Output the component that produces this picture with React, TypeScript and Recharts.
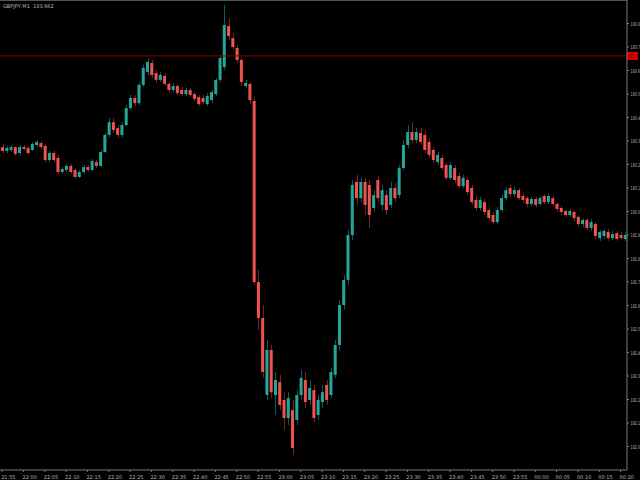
import React from 'react';
import { ComposedChart, Bar, XAxis, YAxis, ReferenceLine } from 'recharts';

const opens = [
  183.274, 183.258, 183.262, 183.274, 183.249, 183.274, 183.270, 183.262, 183.283, 183.291,
  183.279, 183.219, 183.249, 183.228, 183.168, 183.177, 183.194, 183.177, 183.147, 183.168,
  183.189, 183.177, 183.210, 183.194, 183.253, 183.326, 183.380, 183.355, 183.326, 183.368,
  183.440, 183.483, 183.461, 183.539, 183.594, 183.632, 183.589, 183.560, 183.577, 183.543,
  183.517, 183.534, 183.517, 183.500, 183.517, 183.500, 183.487, 183.483, 183.457, 183.474,
  183.500, 183.560, 183.615, 183.789, 183.738, 183.696, 183.645, 183.534, 183.543, 183.470,
  182.700, 182.547, 182.219, 182.411, 182.219, 182.274, 182.198, 182.121, 182.155, 182.113,
  182.219, 182.283, 182.198, 182.240, 182.134, 182.189, 182.262, 182.219, 182.305, 182.432,
  182.602, 182.709, 182.900, 183.126, 183.057, 183.126, 183.113, 183.015, 183.134, 183.028,
  183.070, 183.028, 183.100, 183.070, 183.185, 183.283, 183.338, 183.304, 183.334, 183.326,
  183.296, 183.262, 183.210, 183.228, 183.198, 183.143, 183.185, 183.151, 183.108, 183.134,
  183.100, 183.049, 183.015, 183.040, 183.006, 182.985, 182.955, 183.006, 183.057, 183.100,
  183.074, 183.091, 183.066, 183.057, 183.032, 183.053, 183.032, 183.066, 183.040, 183.057,
  183.032, 183.015, 183.002, 182.985, 182.998, 182.977, 182.947, 182.964, 182.930, 182.947,
  182.887, 182.896, 182.913, 182.887, 182.908, 182.900, 182.883,
];

const closes = [
  183.258, 183.270, 183.274, 183.245, 183.274, 183.266, 183.249, 183.287, 183.296, 183.274,
  183.219, 183.249, 183.219, 183.168, 183.181, 183.194, 183.168, 183.147, 183.168, 183.189,
  183.177, 183.215, 183.194, 183.253, 183.326, 183.380, 183.347, 183.326, 183.368, 183.440,
  183.483, 183.461, 183.539, 183.611, 183.636, 183.581, 183.560, 183.581, 183.543, 183.517,
  183.534, 183.504, 183.500, 183.517, 183.496, 183.479, 183.457, 183.466, 183.491, 183.508,
  183.560, 183.653, 183.794, 183.747, 183.700, 183.645, 183.551, 183.547, 183.474, 182.700,
  182.547, 182.317, 182.411, 182.231, 182.283, 182.177, 182.121, 182.206, 181.994, 182.219,
  182.292, 182.189, 182.249, 182.121, 182.198, 182.231, 182.198, 182.317, 182.432, 182.602,
  182.709, 182.900, 183.113, 183.057, 183.126, 183.028, 182.985, 183.070, 183.057, 183.091,
  183.006, 183.100, 183.057, 183.185, 183.283, 183.338, 183.304, 183.338, 183.296, 183.262,
  183.241, 183.219, 183.241, 183.185, 183.143, 183.198, 183.134, 183.108, 183.143, 183.083,
  183.040, 183.015, 183.049, 182.998, 182.972, 182.955, 183.006, 183.057, 183.091, 183.074,
  183.091, 183.057, 183.049, 183.032, 183.053, 183.028, 183.057, 183.040, 183.066, 183.032,
  183.011, 182.998, 182.985, 183.002, 182.972, 182.947, 182.964, 182.930, 182.955, 182.896,
  182.913, 182.917, 182.887, 182.904, 182.883, 182.887, 182.900,
];

const highs = [
  183.287, 183.279, 183.283, 183.279, 183.283, 183.283, 183.279, 183.296, 183.304, 183.300,
  183.287, 183.258, 183.258, 183.241, 183.189, 183.202, 183.202, 183.185, 183.177, 183.198,
  183.198, 183.223, 183.219, 183.262, 183.334, 183.398, 183.398, 183.368, 183.380, 183.453,
  183.496, 183.496, 183.551, 183.624, 183.653, 183.645, 183.602, 183.594, 183.589, 183.551,
  183.547, 183.543, 183.530, 183.526, 183.526, 183.508, 183.496, 183.496, 183.504, 183.517,
  183.568, 183.666, 183.879, 183.823, 183.760, 183.709, 183.653, 183.560, 183.551, 183.483,
  182.751, 182.602, 182.453, 182.432, 182.317, 182.305, 182.231, 182.231, 182.198, 182.240,
  182.326, 182.317, 182.283, 182.262, 182.219, 182.262, 182.283, 182.334, 182.453, 182.623,
  182.730, 182.921, 183.134, 183.156, 183.143, 183.143, 183.134, 183.091, 183.151, 183.113,
  183.091, 183.126, 183.121, 183.198, 183.304, 183.368, 183.380, 183.355, 183.355, 183.347,
  183.313, 183.274, 183.253, 183.241, 183.210, 183.210, 183.198, 183.164, 183.156, 183.143,
  183.113, 183.066, 183.062, 183.053, 183.019, 182.998, 183.019, 183.070, 183.104, 183.113,
  183.104, 183.100, 183.079, 183.066, 183.062, 183.062, 183.066, 183.074, 183.079, 183.066,
  183.040, 183.023, 183.011, 183.011, 183.006, 182.985, 182.972, 182.972, 182.968, 182.955,
  182.921, 182.926, 182.926, 182.917, 182.917, 182.913, 182.913,
];

const lows = [
  183.249, 183.249, 183.253, 183.236, 183.241, 183.258, 183.241, 183.258, 183.274, 183.266,
  183.210, 183.210, 183.210, 183.156, 183.160, 183.168, 183.160, 183.139, 183.143, 183.160,
  183.168, 183.173, 183.185, 183.189, 183.249, 183.317, 183.334, 183.313, 183.317, 183.360,
  183.432, 183.449, 183.453, 183.530, 183.581, 183.568, 183.547, 183.551, 183.534, 183.504,
  183.508, 183.496, 183.491, 183.491, 183.487, 183.470, 183.449, 183.457, 183.449, 183.461,
  183.491, 183.551, 183.602, 183.730, 183.687, 183.632, 183.534, 183.526, 183.457, 182.688,
  182.496, 182.292, 182.198, 182.206, 182.134, 182.155, 182.070, 182.092, 181.964, 182.092,
  182.198, 182.164, 182.177, 182.104, 182.113, 182.164, 182.177, 182.206, 182.292, 182.411,
  182.581, 182.688, 182.879, 183.028, 183.040, 182.985, 182.930, 182.998, 183.040, 183.006,
  182.985, 183.015, 183.040, 183.057, 183.177, 183.270, 183.291, 183.291, 183.283, 183.249,
  183.228, 183.206, 183.198, 183.177, 183.134, 183.134, 183.121, 183.100, 183.100, 183.070,
  183.028, 183.002, 183.002, 182.985, 182.960, 182.947, 182.947, 182.998, 183.049, 183.062,
  183.062, 183.049, 183.036, 183.019, 183.023, 183.019, 183.023, 183.032, 183.032, 183.023,
  182.998, 182.985, 182.977, 182.977, 182.960, 182.938, 182.934, 182.921, 182.917, 182.883,
  182.875, 182.883, 182.875, 182.879, 182.875, 182.879, 182.875,
];

const timeLabels = [
  '21:55', '22:00', '22:05', '22:10', '22:15', '22:20', '22:25', '22:30', '22:35', '22:40',
  '22:45', '22:50', '22:55', '23:00', '23:05', '23:10', '23:15', '23:20', '23:25', '23:30',
  '23:35', '23:40', '23:45', '23:50', '23:55', '00:00', '00:05', '00:10', '00:15', '00:20',
];

const priceTicks = [
  182.0, 182.1, 182.2, 182.3, 182.4, 182.5, 182.6, 182.7, 182.8, 182.9,
  183.0, 183.1, 183.2, 183.3, 183.4, 183.5, 183.6, 183.7, 183.8,
];

const currentPrice = 183.662;
const titleText = 'GBPJPY,M1  183.662';

const BULL = '#26a69a';
const BEAR = '#ef5350';
const BULL_WICK = '#0f5a52';
const BEAR_WICK = '#7a1e1e';
const AXIS = '#7a7a7a';
const TEXT = '#b8b8b8';
const FONT = 'DejaVu Sans, sans-serif';

const data = opens.map((open, i) => ({
  idx: i,
  open,
  high: highs[i],
  low: lows[i],
  close: closes[i],
}));

const xTicks = timeLabels.map((_, k) => k * 5);

const Candle = (props: any) => {
  const { x, y, width, height, payload } = props;
  if (!payload) return null;
  const { open, close, high, low } = payload;
  const range = high - low || 1;
  const k = height / range;
  const bull = close >= open;
  const bodyTop = y + (high - Math.max(open, close)) * k;
  const bodyH = Math.max(1, Math.abs(open - close) * k);
  const cx = Math.round(x + width / 2) + 0.5;
  return (
    <g>
      <line x1={cx} x2={cx} y1={y} y2={y + height} stroke={bull ? BULL_WICK : BEAR_WICK} strokeWidth={1} />
      <rect x={x} y={bodyTop} width={width} height={bodyH} fill={bull ? BULL : BEAR} />
    </g>
  );
};

const XTick = (props: any) => {
  const { x, y, payload } = props;
  const label = timeLabels[Math.round(payload.value / 5)];
  return (
    <text x={x - 1} y={y + 5} fill={TEXT} fontSize={5} fontFamily={FONT} textAnchor="start">
      {label}
    </text>
  );
};

const YTick = (props: any) => {
  const { x, y, payload } = props;
  return (
    <g transform={`translate(${x - 0.5},${y + 2}) scale(0.68,1)`}>
      <text x={0} y={0} fill={TEXT} fontSize={5} fontFamily={FONT} textAnchor="start">
        {Number(payload.value).toFixed(1)}
      </text>
    </g>
  );
};

const PriceTag = (props: any) => {
  const { viewBox } = props;
  if (!viewBox) return null;
  const right = viewBox.x + viewBox.width;
  const yy = viewBox.y;
  return (
    <g>
      <rect x={right} y={yy - 4} width={11} height={8} fill="#e00000" />
      <g transform={`translate(${right + 0.6},${yy + 2}) scale(0.68,1)`}>
        <text x={0} y={0} fontSize={5} fill="#400000" fontFamily={FONT}>
          {currentPrice.toFixed(1)}
        </text>
      </g>
    </g>
  );
};

export default function App() {
  return (
    <div style={{ position: 'absolute', left: 0, top: 0, width: 640, height: 480, background: '#000', overflow: 'hidden' }}>
      <ComposedChart
        width={640}
        height={480}
        data={data}
        margin={{ top: 0, right: 0, bottom: 0, left: 0 }}
        barCategoryGap={0}
      >
        <XAxis
          dataKey="idx"
          type="category"
          ticks={xTicks}
          interval={0}
          height={10}
          tick={<XTick />}
          tickSize={2}
          tickLine={{ stroke: AXIS }}
          axisLine={{ stroke: AXIS }}
        />
        <YAxis
          orientation="right"
          width={13}
          type="number"
          domain={[181.9, 183.9]}
          ticks={priceTicks}
          allowDataOverflow
          tick={<YTick />}
          tickSize={2}
          tickLine={{ stroke: AXIS }}
          axisLine={{ stroke: AXIS }}
        />
        <ReferenceLine y={currentPrice} stroke="#8a0000" strokeWidth={1} label={<PriceTag />} />
        <Bar
          dataKey={(d: any) => [d.low, d.high]}
          barSize={3}
          shape={<Candle />}
          isAnimationActive={false}
        />
      </ComposedChart>
      <div style={{ position: 'absolute', left: 0, top: 0, width: 627, height: 1, background: '#555' }} />
      <div style={{ position: 'absolute', left: 3, top: 3, color: TEXT, fontSize: 5, fontFamily: FONT, whiteSpace: 'pre' }}>
        {titleText}
      </div>
    </div>
  );
}
